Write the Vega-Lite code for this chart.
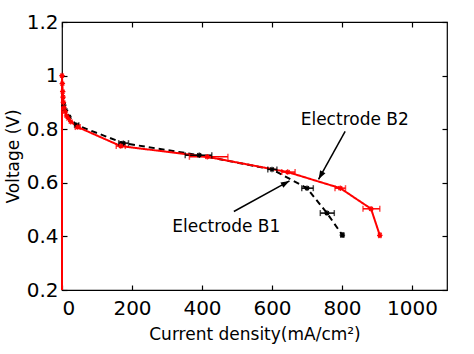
{
  "$schema": "https://vega.github.io/schema/vega-lite/v6.json",
  "autosize": {"type": "none"},
  "padding": {"left": 62, "top": 22, "right": 27, "bottom": 64},
  "width": 385,
  "height": 268,
  "config": {
    "view": {"stroke": "#000000", "strokeWidth": 1.2},
    "font": "DejaVu Sans",
    "axis": {
      "grid": false,
      "domain": false,
      "tickColor": "#000000",
      "tickSize": -5,
      "tickWidth": 1.2,
      "labelColor": "#000000",
      "titleColor": "#000000",
      "labelFont": "DejaVu Sans",
      "titleFont": "DejaVu Sans",
      "labelFontSize": 20,
      "titleFontSize": 17,
      "titleFontWeight": "normal"
    }
  },
  "datasets": {
    "curves": [
      {"s": "B1", "o": 1, "x": 5, "y": 0.89},
      {"s": "B1", "o": 2, "x": 10, "y": 0.87},
      {"s": "B1", "o": 3, "x": 20, "y": 0.846},
      {"s": "B1", "o": 4, "x": 42, "y": 0.815},
      {"s": "B1", "o": 5, "x": 175, "y": 0.748},
      {"s": "B1", "o": 6, "x": 392, "y": 0.703},
      {"s": "B1", "o": 7, "x": 600, "y": 0.65},
      {"s": "B1", "o": 8, "x": 700, "y": 0.58},
      {"s": "B1", "o": 9, "x": 757, "y": 0.487},
      {"s": "B1", "o": 10, "x": 801, "y": 0.405},
      {"s": "B2", "o": 0, "x": 0, "y": 0.2},
      {"s": "B2", "o": 1, "x": 0, "y": 1.0},
      {"s": "B2", "o": 2, "x": 1, "y": 0.97},
      {"s": "B2", "o": 3, "x": 2, "y": 0.94},
      {"s": "B2", "o": 4, "x": 3, "y": 0.92},
      {"s": "B2", "o": 5, "x": 4, "y": 0.9},
      {"s": "B2", "o": 6, "x": 6, "y": 0.88},
      {"s": "B2", "o": 7, "x": 9, "y": 0.865},
      {"s": "B2", "o": 8, "x": 13, "y": 0.85},
      {"s": "B2", "o": 9, "x": 18, "y": 0.84},
      {"s": "B2", "o": 10, "x": 25, "y": 0.828},
      {"s": "B2", "o": 11, "x": 45, "y": 0.808},
      {"s": "B2", "o": 12, "x": 168, "y": 0.737},
      {"s": "B2", "o": 13, "x": 415, "y": 0.697},
      {"s": "B2", "o": 14, "x": 645, "y": 0.64},
      {"s": "B2", "o": 15, "x": 795, "y": 0.58},
      {"s": "B2", "o": 16, "x": 883, "y": 0.503},
      {"s": "B2", "o": 17, "x": 908, "y": 0.404}
    ],
    "errs": [
      {"s": "B1", "y": 0.815, "lo": 36, "hi": 48},
      {"s": "B1", "y": 0.748, "lo": 162, "hi": 190},
      {"s": "B1", "y": 0.703, "lo": 352, "hi": 428},
      {"s": "B1", "y": 0.65, "lo": 588, "hi": 614},
      {"s": "B1", "y": 0.58, "lo": 685, "hi": 718},
      {"s": "B1", "y": 0.487, "lo": 738, "hi": 778},
      {"s": "B1", "y": 0.405, "lo": 797, "hi": 805},
      {"s": "B2", "y": 0.808, "lo": 38, "hi": 52},
      {"s": "B2", "y": 0.737, "lo": 155, "hi": 181},
      {"s": "B2", "y": 0.697, "lo": 364, "hi": 474},
      {"s": "B2", "y": 0.64, "lo": 628, "hi": 666},
      {"s": "B2", "y": 0.58, "lo": 780, "hi": 810},
      {"s": "B2", "y": 0.503, "lo": 860, "hi": 908},
      {"s": "B2", "y": 0.404, "lo": 905, "hi": 911}
    ],
    "arrows": [
      {"x": 809, "y": 0.792, "x2": 733, "y2": 0.613, "a": 209},
      {"x": 491, "y": 0.493, "x2": 650, "y2": 0.607, "a": 61}
    ],
    "labels": [
      {"x": 682, "y": 0.835, "t": "Electrode B2"},
      {"x": 315, "y": 0.435, "t": "Electrode B1"}
    ]
  },
  "resolve": {"axis": {"x": "independent", "y": "independent"}},
  "layer": [
    {
      "data": {"name": "curves"},
      "mark": {"type": "line", "strokeWidth": 2},
      "encoding": {
        "x": {"field": "x", "type": "quantitative", "scale": {"domain": [0, 1100], "nice": false},
              "axis": {"orient": "bottom", "values": [0, 200, 400, 600, 800, 1000], "format": "d", "labelPadding": 13, "title": "Current density(mA/cm²)", "titlePadding": 8}},
        "y": {"field": "y", "type": "quantitative", "scale": {"domain": [0.2, 1.2], "nice": false, "zero": false},
              "axis": {"orient": "left", "values": [0.2, 0.4, 0.6, 0.8, 1, 1.2], "format": "~g", "labelPadding": 9, "title": "Voltage (V)", "titlePadding": 4}},
        "color": {"field": "s", "type": "nominal", "scale": {"domain": ["B1", "B2"], "range": ["#000000", "#ff0000"]}, "legend": null},
        "strokeDash": {"field": "s", "type": "nominal", "scale": {"domain": ["B1", "B2"], "range": [[6, 4], [1, 0]]}, "legend": null},
        "order": {"field": "o", "type": "quantitative"}
      }
    },
    {
      "data": {"name": "errs"},
      "mark": {"type": "rule", "strokeWidth": 1.5},
      "encoding": {
        "x": {"field": "lo", "type": "quantitative", "scale": {"domain": [0, 1100], "nice": false}, "axis": null},
        "x2": {"field": "hi"},
        "y": {"field": "y", "type": "quantitative", "scale": {"domain": [0.2, 1.2], "nice": false, "zero": false}, "axis": null},
        "color": {"field": "s", "type": "nominal", "scale": {"domain": ["B1", "B2"], "range": ["#000000", "#ff0000"]}, "legend": null}
      }
    },
    {
      "data": {"name": "errs"},
      "mark": {"type": "tick", "orient": "vertical", "size": 6, "thickness": 1.5},
      "encoding": {
        "x": {"field": "lo", "type": "quantitative", "scale": {"domain": [0, 1100], "nice": false}, "axis": null},
        "y": {"field": "y", "type": "quantitative", "scale": {"domain": [0.2, 1.2], "nice": false, "zero": false}, "axis": null},
        "color": {"field": "s", "type": "nominal", "scale": {"domain": ["B1", "B2"], "range": ["#000000", "#ff0000"]}, "legend": null}
      }
    },
    {
      "data": {"name": "errs"},
      "mark": {"type": "tick", "orient": "vertical", "size": 6, "thickness": 1.5},
      "encoding": {
        "x": {"field": "hi", "type": "quantitative", "scale": {"domain": [0, 1100], "nice": false}, "axis": null},
        "y": {"field": "y", "type": "quantitative", "scale": {"domain": [0.2, 1.2], "nice": false, "zero": false}, "axis": null},
        "color": {"field": "s", "type": "nominal", "scale": {"domain": ["B1", "B2"], "range": ["#000000", "#ff0000"]}, "legend": null}
      }
    },
    {
      "data": {"name": "curves"},
      "transform": [{"filter": "datum.o > 0"}],
      "mark": {"type": "point", "shape": "M-1,0L1,0M0,-1L0,1M-0.7,-0.7L0.7,0.7M-0.7,0.7L0.7,-0.7", "size": 30, "strokeWidth": 1.2, "filled": false, "opacity": 1},
      "encoding": {
        "x": {"field": "x", "type": "quantitative", "scale": {"domain": [0, 1100], "nice": false}, "axis": null},
        "y": {"field": "y", "type": "quantitative", "scale": {"domain": [0.2, 1.2], "nice": false, "zero": false}, "axis": null},
        "color": {"field": "s", "type": "nominal", "scale": {"domain": ["B1", "B2"], "range": ["#000000", "#ff0000"]}, "legend": null}
      }
    },
    {
      "data": {"name": "arrows"},
      "mark": {"type": "rule", "strokeWidth": 1.5, "color": "#000000"},
      "encoding": {
        "x": {"field": "x", "type": "quantitative", "scale": {"domain": [0, 1100], "nice": false}, "axis": null},
        "y": {"field": "y", "type": "quantitative", "scale": {"domain": [0.2, 1.2], "nice": false, "zero": false}, "axis": null},
        "x2": {"field": "x2"},
        "y2": {"field": "y2"}
      }
    },
    {
      "data": {"name": "arrows"},
      "mark": {"type": "point", "shape": "M0,0L0.45,1.3L-0.45,1.3Z", "size": 180, "filled": true, "color": "#000000", "opacity": 1},
      "encoding": {
        "x": {"field": "x2", "type": "quantitative", "scale": {"domain": [0, 1100], "nice": false}, "axis": null},
        "y": {"field": "y2", "type": "quantitative", "scale": {"domain": [0.2, 1.2], "nice": false, "zero": false}, "axis": null},
        "angle": {"field": "a", "type": "quantitative", "scale": null}
      }
    },
    {
      "data": {"name": "labels"},
      "mark": {"type": "text", "align": "left", "baseline": "middle", "fontSize": 17, "font": "DejaVu Sans", "color": "#000000"},
      "encoding": {
        "x": {"field": "x", "type": "quantitative", "scale": {"domain": [0, 1100], "nice": false},
              "axis": {"orient": "top", "values": [0, 200, 400, 600, 800, 1000], "labels": false, "title": null}},
        "y": {"field": "y", "type": "quantitative", "scale": {"domain": [0.2, 1.2], "nice": false, "zero": false},
              "axis": {"orient": "right", "values": [0.2, 0.4, 0.6, 0.8, 1, 1.2], "labels": false, "title": null}},
        "text": {"field": "t"}
      }
    }
  ]
}
